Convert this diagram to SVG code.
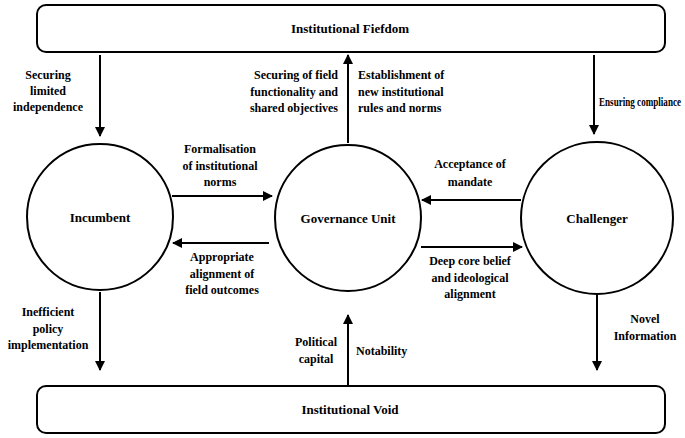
<svg xmlns="http://www.w3.org/2000/svg" width="685" height="438" viewBox="0 0 685 438">
<style>
.box{fill:#fff;stroke:#000;stroke-width:2}
.c{fill:#fff;stroke:#000;stroke-width:2}
.t{font-family:"Liberation Serif",serif;font-size:12px;font-weight:bold;fill:#000}
.m{text-anchor:middle}
.e{text-anchor:end}
.h{font-size:13px}
.a{stroke:#000;stroke-width:2;fill:none;marker-end:url(#ah)}
</style>
<defs><marker id="ah" viewBox="0 0 10 10" refX="9" refY="5" markerWidth="5" markerHeight="5" orient="auto"><path d="M0,0L10,5L0,10z" fill="#000"/></marker></defs>
<rect width="685" height="438" fill="#fff"/>
<g id="fiefdom"><rect class="box" x="37" y="5" width="628" height="47" rx="9"/><text class="t m h" x="350" y="33">Institutional Fiefdom</text></g>
<g id="void"><rect class="box" x="37" y="386" width="628" height="47" rx="9"/><text class="t m h" x="350" y="414">Institutional Void</text></g>
<g id="incumbent"><circle class="c" cx="100" cy="217" r="73"/><text class="t m h" x="100" y="222">Incumbent</text></g>
<g id="governance"><circle class="c" cx="348" cy="218" r="73"/><text class="t m h" x="348" y="223">Governance Unit</text></g>
<g id="challenger"><circle class="c" cx="597" cy="218" r="76"/><text class="t m h" x="597" y="223">Challenger</text></g>
<g id="connectors">
<line class="a" x1="100" y1="55" x2="100" y2="136"/>
<line class="a" x1="594" y1="55" x2="594" y2="134"/>
<line class="a" x1="348" y1="143" x2="348" y2="55"/>
<line class="a" x1="348" y1="385" x2="348" y2="315"/>
<line class="a" x1="100" y1="292" x2="100" y2="370"/>
<line class="a" x1="597" y1="294" x2="597" y2="370"/>
<line class="a" x1="172" y1="196" x2="272" y2="196"/>
<line class="a" x1="269" y1="243" x2="173" y2="243"/>
<line class="a" x1="521" y1="200" x2="422" y2="200"/>
<line class="a" x1="421" y1="247" x2="522" y2="247"/>
</g>
<g id="labels">
<text class="t m" x="48" y="79">Securing<tspan x="48" dy="16">limited</tspan><tspan x="48" dy="16">independence</tspan></text>
<text class="t e" x="338" y="79">Securing of field<tspan x="338" dy="16.5">functionality and</tspan><tspan x="338" dy="16.5">shared objectives</tspan></text>
<text class="t" x="358" y="79">Establishment of<tspan x="358" dy="16.5">new institutional</tspan><tspan x="358" dy="16.5">rules and norms</tspan></text>
<text class="t" x="599" y="106" textLength="82" lengthAdjust="spacingAndGlyphs">Ensuring compliance</text>
<text class="t m" x="220" y="153">Formalisation<tspan x="220" dy="16.5">of institutional</tspan><tspan x="220" dy="16.5">norms</tspan></text>
<text class="t m" x="470" y="168">Acceptance of<tspan x="470" dy="18">mandate</tspan></text>
<text class="t m" x="222" y="261">Appropriate<tspan x="222" dy="16.5">alignment of</tspan><tspan x="222" dy="16.5">field outcomes</tspan></text>
<text class="t m" x="470" y="265">Deep core belief<tspan x="470" dy="16.5">and ideological</tspan><tspan x="470" dy="16.5">alignment</tspan></text>
<text class="t m" x="48" y="316">Inefficient<tspan x="48" dy="16.5">policy</tspan><tspan x="48" dy="16.5">implementation</tspan></text>
<text class="t m" x="316" y="346">Political<tspan x="316" dy="17">capital</tspan></text>
<text class="t" x="356" y="355">Notability</text>
<text class="t m" x="645" y="323">Novel<tspan x="645" dy="16.5">Information</tspan></text>
</g>
</svg>
